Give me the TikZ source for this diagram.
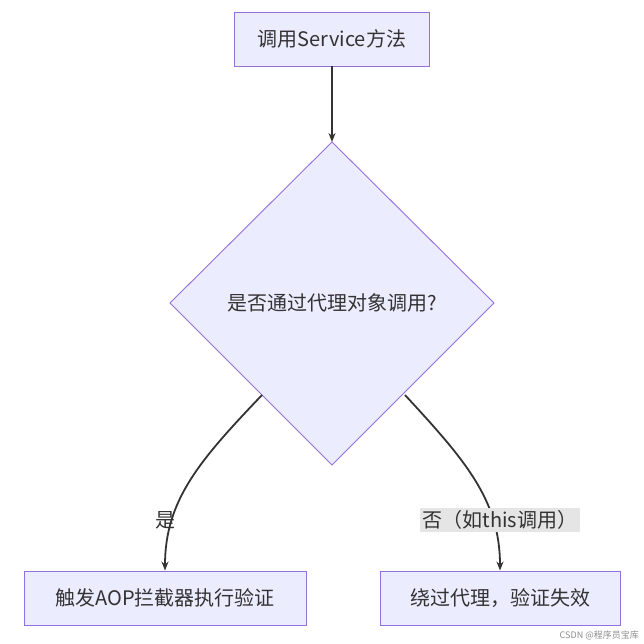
\documentclass[tikz,border=0pt]{standalone}
\usepackage{fontspec}
\setmainfont{Noto Sans CJK SC}
\usetikzlibrary{shapes.geometric,arrows.meta}
\definecolor{nfill}{HTML}{ECECFF}
\definecolor{nline}{HTML}{9370DB}
\definecolor{edge}{HTML}{333333}
\begin{document}
\begin{tikzpicture}[x=1pt,y=-1pt,
  box/.style={draw=nline,fill=nfill,line width=0.9pt,font=\fontsize{20}{24}\selectfont,text=edge,minimum height=54pt,inner xsep=12pt},
  arr/.style={draw=edge,line width=1.8pt,-{Stealth[length=9pt,width=7pt]}},
  lab/.style={font=\fontsize{20}{24}\selectfont,text=edge,inner sep=2pt}]
\useasboundingbox (0,0) rectangle (643,644);
\node[box,minimum width=195pt] (a) at (332,39) {调用Service方法};
\draw[draw=nline,fill=nfill,line width=0.9pt] (332,142) coordinate (dt) -- (494,303) -- (332,465) -- (170,303) -- cycle;
\node[lab] (d) at (332,303) {是否通过代理对象调用?};
\node[box,minimum width=282pt] (l) at (165,598) {触发AOP拦截器执行验证};
\node[box,minimum width=240pt] (r) at (500,598) {绕过代理，验证失效};
\coordinate (dl) at (262,395);
\coordinate (dr) at (405,395);
\draw[arr] (a) -- (dt);
\draw[arr] (dl) .. controls (200,460) and (165,500) .. (l.north);
\draw[arr] (dr) .. controls (465,460) and (500,500) .. (r.north);
\node[lab] (ly) at (165,520) {是};
\node[lab,fill=black!10,inner xsep=3pt] (ln) at (500,520) {否（如this调用）};
\node[font=\fontsize{9}{11}\selectfont,text=black!45,anchor=south east,inner sep=1pt] (wm) at (640,641) {CSDN @程序员宝库};
\end{tikzpicture}
\end{document}
